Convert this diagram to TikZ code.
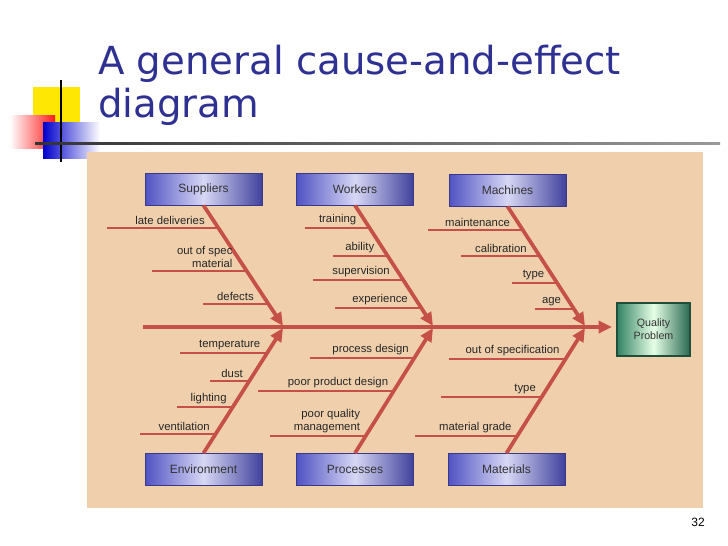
\documentclass[tikz,border=0pt]{standalone}
\usepackage{fontspec}
\setmainfont{DejaVu Sans}
\newfontfamily\lab{Liberation Sans}
\usetikzlibrary{arrows.meta}
\definecolor{tan}{RGB}{240,208,172}
\definecolor{bone}{RGB}{196,80,72}
\definecolor{boxb}{RGB}{80,82,195}
\definecolor{boxl}{RGB}{215,215,245}
\definecolor{titleb}{RGB}{46,49,146}
\definecolor{qg}{RGB}{50,130,100}
\tikzset{
 cat/.style={draw=boxb!70!black,line width=0.6pt,left color=boxb,right color=boxb!80!black,middle color=boxl,minimum width=117*0.75pt,minimum height=32*0.75pt,font=\lab\fontsize{9}{10}\selectfont,text=black!80},
 bonel/.style={draw=bone,line width=2.8pt,-{Triangle[length=10pt,width=9pt]}},
 sub/.style={draw=bone,line width=1.1pt},
 lbl/.style={font=\lab\fontsize{8.5}{9.5}\selectfont,text=black!85,inner sep=1pt,align=right}
}
\begin{document}
\begin{tikzpicture}[x=0.75pt,y=-0.75pt]
\useasboundingbox (0,0) rectangle (728,546);
\fill[white] (0,0) rectangle (728,546);
% decoration
\fill[yellow!90!orange] (33,87) rectangle (80,130);
\shade[left color=white,right color=red!90] (10,115) rectangle (55,148);
\shade[left color=blue!80!black,right color=white] (43,122) rectangle (100,158);
\draw[black,line width=1.5pt] (61,80) -- (61,162);
\shade[left color=black!80,right color=black!40] (35,142) rectangle (720,144.5);
\node[anchor=base west,text=titleb,font=\fontsize{29}{34}\selectfont,inner sep=0] at (98,74) {A general cause-and-effect};
\node[anchor=base west,text=titleb,font=\fontsize{29}{34}\selectfont,inner sep=0] at (98,117) {diagram};
\node[anchor=base east,font=\lab\fontsize{9}{10}\selectfont,inner sep=0] at (705,526) {32};
% panel
\fill[tan] (87,152) rectangle (703,508);
% boxes
\node[cat] (sup) at (203.5,189) {Suppliers};
\node[cat] (wor) at (355,189) {Workers};
\node[cat] (mac) at (507.5,190) {Machines};
\node[cat] (env) at (203.5,469.5) {Environment};
\node[cat] (pro) at (355,469.5) {Processes};
\node[cat] (mat) at (506.5,469.5) {Materials};
\node[draw=qg!60!black,line width=0.8pt,left color=qg,right color=qg!80!black,middle color=green!10!white,minimum width=73*0.75pt,minimum height=53*0.75pt,align=center,font=\lab\fontsize{8}{9.5}\selectfont,text=black!80] (q) at (653.5,329.5) {Quality\\Problem};
% spine
\coordinate (s0) at (143,327);
\coordinate (tip) at (612,327);
\draw[bonel] (s0) -- (tip);
\coordinate (j1) at (283,326); \coordinate (j2) at (433,326); \coordinate (j3) at (585,326);
\coordinate (k1) at (283,328); \coordinate (k2) at (433,328); \coordinate (k3) at (585,328);
\draw[bonel] (sup.south) -- (j1);
\draw[bonel] (wor.south) -- (j2);
\draw[bonel] (mac.south) -- (j3);
\draw[bonel] (env.north) -- (k1);
\draw[bonel] (pro.north) -- (k2);
\draw[bonel] (mat.north) -- (k3);
\foreach \x/\y/\t/\bx/\l in {
 107/228/late deliveries/203.5/a1, 152/271/{out of spec\\material}/203.5/a2, 203/304/defects/203.5/a3,
 305/228/training/355/b1, 333/256/ability/355/b2, 313/280/supervision/355/b3, 335/308/experience/355/b4,
 428/230/maintenance/507.5/c1, 461/256/calibration/507.5/c2, 512/283/type/507.5/c3, 535/309/age/507.5/c4}{
 \pgfmathsetmacro\ex{\bx+(\y-205)*78/121}
 \coordinate (\l s) at (\x,\y); \coordinate (\l e) at (\ex,\y);
 \draw[sub] (\l s) -- (\l e);
 \node[lbl,anchor=south east] (\l) at (\ex-12,\y-2) {\t};
}
\foreach \x/\y/\t/\bx/\l in {
 180/353/temperature/203.5/d1, 210/381/dust/203.5/d2, 177/407/lighting/203.5/d3, 140/434/ventilation/203.5/d4,
 310/358/process design/355/e1, 258/391/poor product design/355/e2, 270/436/{poor quality\\management}/355/e3,
 449/359/out of specification/506.5/f1, 441/397/type/506.5/f2, 415/436/material grade/506.5/f3}{
 \pgfmathsetmacro\ex{\bx+(453-\y)*78/125}
 \coordinate (\l s) at (\x,\y); \coordinate (\l e) at (\ex,\y);
 \draw[sub] (\l s) -- (\l e);
 \node[lbl,anchor=south east] (\l) at (\ex-4,\y-2) {\t};
}
\end{tikzpicture}
\end{document}
